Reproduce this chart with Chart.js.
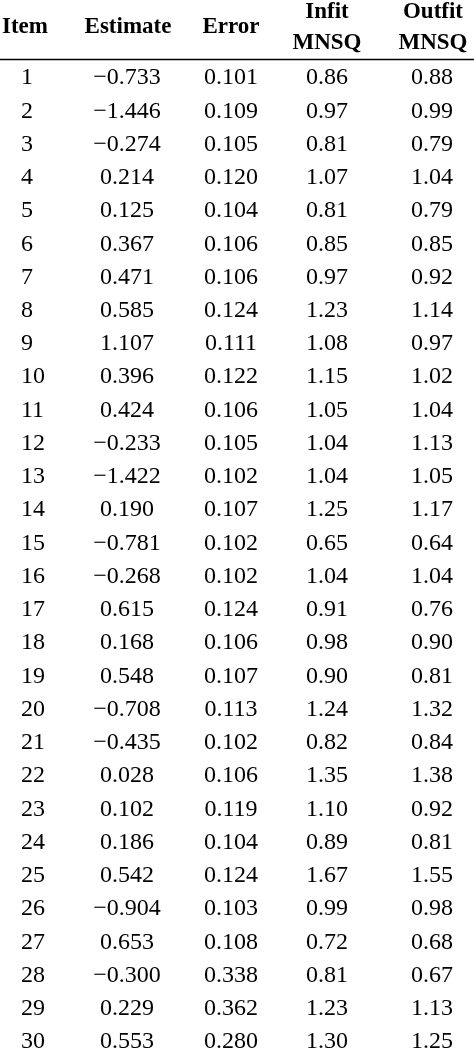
<!DOCTYPE html>
<html><head><meta charset="utf-8">
<script src="https://cdn.jsdelivr.net/npm/chart.js@4"></script>
<style>html,body{margin:0;padding:0;background:#fff}canvas{display:block}</style>
</head><body>
<canvas id="c" width="474" height="1054"></canvas>
<script>
const items = ['1','2','3','4','5','6','7','8','9','10','11','12','13','14','15','16','17','18','19','20','21','22','23','24','25','26','27','28','29','30'];
const estimate = ['−0.733','−1.446','−0.274','0.214','0.125','0.367','0.471','0.585','1.107','0.396','0.424','−0.233','−1.422','0.190','−0.781','−0.268','0.615','0.168','0.548','−0.708','−0.435','0.028','0.102','0.186','0.542','−0.904','0.653','−0.300','0.229','0.553'];
const error = ['0.101','0.109','0.105','0.120','0.104','0.106','0.106','0.124','0.111','0.122','0.106','0.105','0.102','0.107','0.102','0.102','0.124','0.106','0.107','0.113','0.102','0.106','0.119','0.104','0.124','0.103','0.108','0.338','0.362','0.280'];
const infit = ['0.86','0.97','0.81','1.07','0.81','0.85','0.97','1.23','1.08','1.15','1.05','1.04','1.04','1.25','0.65','1.04','0.91','0.98','0.90','1.24','0.82','1.35','1.10','0.89','1.67','0.99','0.72','0.81','1.23','1.30'];
const outfit = ['0.88','0.99','0.79','1.04','0.79','0.85','0.92','1.14','0.97','1.02','1.04','1.13','1.05','1.17','0.64','1.04','0.76','0.90','0.81','1.32','0.84','1.38','0.92','0.81','1.55','0.98','0.68','0.67','1.13','1.25'];
const headers = [['Item'],['Estimate'],['Error'],['Infit','MNSQ'],['Outfit','MNSQ']];
const columns = [items, estimate, error, infit, outfit];

const colX = [21, 127, 231, 327, 432];
const colAlign = ['left','center','center','center','center'];
const headX = [2, 128, 231, 327, 433];

const tablePlugin = {
  id: 'table',
  afterDraw(chart) {
    const ctx = chart.ctx, xs = chart.scales.x, ys = chart.scales.y;
    ctx.save();
    ctx.fillStyle = '#000';
    ctx.textBaseline = 'middle';
    ctx.font = 'bold 23px "Liberation Serif", serif';
    headers.forEach((h, c) => {
      ctx.textAlign = c === 0 ? 'left' : 'center';
      const x = xs.getPixelForValue(headX[c]);
      if (h.length === 1) ctx.fillText(h[0], x, ys.getPixelForValue(-0.535));
      else { ctx.fillText(h[0], x, ys.getPixelForValue(-0.99)); ctx.fillText(h[1], x, ys.getPixelForValue(-0.06)); }
    });
    ctx.font = '24px "Liberation Serif", serif';
    columns.forEach((col, c) => {
      ctx.textAlign = colAlign[c];
      const x = xs.getPixelForValue(colX[c]);
      col.forEach((v, r) => ctx.fillText(v, x, ys.getPixelForValue(r + 1)));
    });
    ctx.strokeStyle = '#000'; ctx.lineWidth = 1.5;
    const y = Math.round(ys.getPixelForValue(0.413)) + 0.5;
    ctx.beginPath(); ctx.moveTo(0, y); ctx.lineTo(474, y); ctx.stroke();
    ctx.restore();
  }
};

new Chart(document.getElementById('c'), {
  type: 'scatter',
  data: { datasets: [{ data: [], pointRadius: 0 }] },
  options: {
    responsive: false, animation: false,
    layout: { padding: 0 },
    plugins: { legend: { display: false }, tooltip: { enabled: false } },
    scales: {
      x: { type: 'linear', min: 0, max: 474, display: false },
      y: { type: 'linear', min: -1.347, max: 30.36, reverse: true, display: false }
    }
  },
  plugins: [tablePlugin]
});
</script>
</body></html>
